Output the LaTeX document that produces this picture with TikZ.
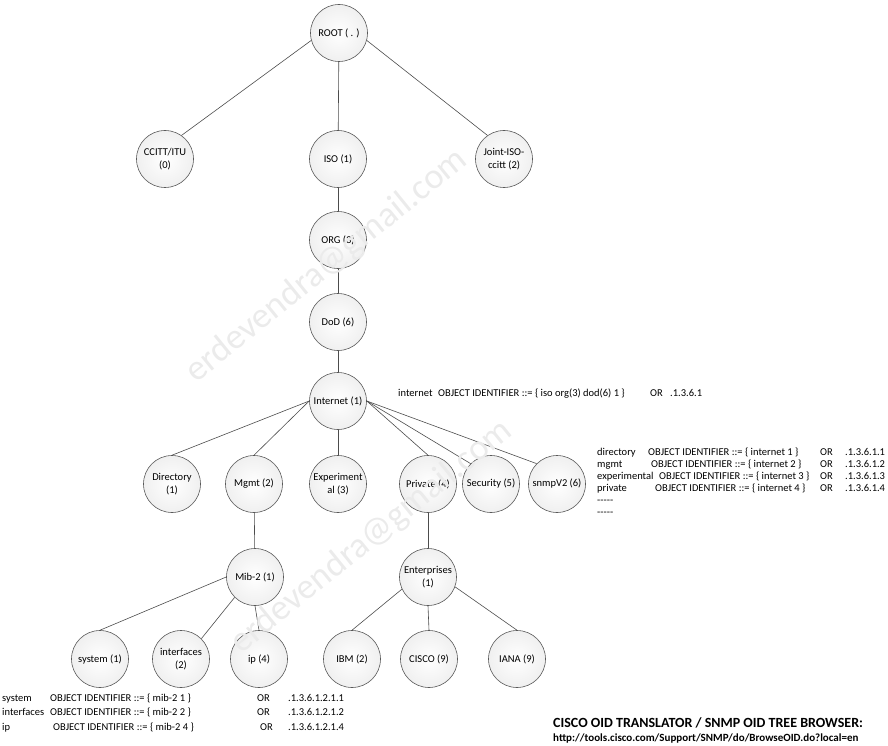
\documentclass[tikz,border=0pt]{standalone}
\usepackage{fontspec}
\setmainfont{Carlito}
\begin{document}
\begin{tikzpicture}[x=1pt,y=-1pt,
  oid/.style={circle, draw=black!65, line width=0.6pt, minimum size=57pt, inner sep=0pt,
    align=center, font=\fontsize{10.5}{12.5}\selectfont, inner color=white, outer color=black!6},
  edge/.style={draw=black!70, line width=0.6pt},
  note/.style={anchor=base west, inner sep=0pt, font=\fontsize{10.5}{12.5}\selectfont},
  wmark/.style={text=black!8, font=\fontsize{36}{36}\selectfont, rotate=39}]
\useasboundingbox (0,0) rectangle (888,746);
% nodes
\node[oid] (root) at (339,33) {ROOT ( . )};
\node[oid] (ccitt) at (165,159) {CCITT/ITU\\(0)};
\node[oid] (iso) at (338,159) {ISO (1)};
\node[oid] (joint) at (504,159) {Joint-ISO-\\ccitt (2)};
\node[oid] (org) at (338,240) {ORG (3)};
\node[oid] (dod) at (338,322) {DoD (6)};
\node[oid] (internet) at (338,401) {Internet (1)};
\node[oid] (directory) at (172,484) {Directory\\(1)};
\node[oid] (mgmt) at (254,484) {Mgmt (2)};
\node[oid] (exper) at (338,484) {Experiment\\al (3)};
\node[oid] (private) at (428,484) {Private (4)};
\node[oid] (security) at (491,484) {Security (5)};
\node[oid] (snmpv2) at (557,484) {snmpV2 (6)};
\node[oid] (mib) at (255,577) {Mib-2 (1)};
\node[oid] (enter) at (428,577) {Enterprises\\(1)};
\node[oid] (system) at (100,659) {system (1)};
\node[oid] (interfaces) at (181,659) {interfaces\\(2)};
\node[oid] (ip) at (259,659) {ip (4)};
\node[oid] (ibm) at (352,659) {IBM (2)};
\node[oid] (cisco) at (429,659) {CISCO (9)};
\node[oid] (iana) at (517,659) {IANA (9)};
% edges
\draw[edge] (root.195) -- (ccitt.55);
\draw[edge] (root) -- (iso);
\draw[edge] (root.-15) -- (joint.125);
\draw[edge] (iso) -- (org);
\draw[edge] (org) -- (dod);
\draw[edge] (dod) -- (internet);
\draw[edge] (internet.west) -- (directory.north);
\draw[edge] (internet.west) -- (mgmt.north);
\draw[edge] (internet) -- (exper);
\draw[edge] (internet.east) -- (private.north);
\draw[edge] (internet.east) -- (security.north west);
\draw[edge] (internet.east) -- (snmpv2.north west);
\draw[edge] (mgmt) -- (mib);
\draw[edge] (private) -- (enter);
\draw[edge] (mib.west) -- (system.north);
\draw[edge] (mib.south west) -- (interfaces.north east);
\draw[edge] (mib.south) -- (ip.north);
\draw[edge] (enter.205) -- (ibm.north);
\draw[edge] (enter.south) -- (cisco.north);
\draw[edge] (enter.-20) -- (iana.north);
% internet annotation
\node[note] (i1) at (398,396) {internet};
\node[note] (i2) at (438,396) {OBJECT IDENTIFIER ::= \{ iso org(3) dod(6) 1 \}};
\node[note] (i3) at (650,396) {OR};
\node[note] (i4) at (670,396) {.1.3.6.1};
% right block
\node[note] (r1a) at (597,455) {directory};
\node[note] (r1b) at (648,455) {OBJECT IDENTIFIER ::= \{ internet 1 \}};
\node[note] (r1c) at (820,455) {OR};
\node[note] (r1d) at (845,455) {.1.3.6.1.1};
\node[note] (r2a) at (597,467) {mgmt};
\node[note] (r2b) at (651,467) {OBJECT IDENTIFIER ::= \{ internet 2 \}};
\node[note] (r2c) at (820,467) {OR};
\node[note] (r2d) at (845,467) {.1.3.6.1.2};
\node[note] (r3a) at (597,479) {experimental};
\node[note] (r3b) at (659,479) {OBJECT IDENTIFIER ::= \{ internet 3 \}};
\node[note] (r3c) at (820,479) {OR};
\node[note] (r3d) at (845,479) {.1.3.6.1.3};
\node[note] (r4a) at (597,491) {private};
\node[note] (r4b) at (655,491) {OBJECT IDENTIFIER ::= \{ internet 4 \}};
\node[note] (r4c) at (820,491) {OR};
\node[note] (r4d) at (845,491) {.1.3.6.1.4};
\node[note] (r5) at (597,503) {{-}{-}{-}{-}{-}};
\node[note] (r6) at (597,515) {{-}{-}{-}{-}{-}};
% bottom-left block
\node[note] (b1a) at (2,701) {system};
\node[note] (b1b) at (50,701) {OBJECT IDENTIFIER ::= \{ mib-2 1 \}};
\node[note] (b1c) at (257,701) {OR};
\node[note] (b1d) at (288,701) {.1.3.6.1.2.1.1};
\node[note] (b2a) at (2,715) {interfaces};
\node[note] (b2b) at (50,715) {OBJECT IDENTIFIER ::= \{ mib-2 2 \}};
\node[note] (b2c) at (257,715) {OR};
\node[note] (b2d) at (288,715) {.1.3.6.1.2.1.2};
\node[note] (b3a) at (2,730) {ip};
\node[note] (b3b) at (53,730) {OBJECT IDENTIFIER ::= \{ mib-2 4 \}};
\node[note] (b3c) at (260,730) {OR};
\node[note] (b3d) at (288,730) {.1.3.6.1.2.1.4};
% cisco
\node[note, font=\fontsize{14}{16}\selectfont\bfseries] (c1) at (553,727) {CISCO OID TRANSLATOR / SNMP OID TREE BROWSER:};
\node[note, font=\fontsize{11}{13}\selectfont\bfseries] (c2) at (553,741) {http://tools.cisco.com/Support/SNMP/do/BrowseOID.do?local=en};
% watermarks
\node[wmark] (w1) at (327,266) {erdevendra@gmail.com};
\node[wmark] (w2) at (372,537) {erdevendra@gmail.com};
\end{tikzpicture}
\end{document}
